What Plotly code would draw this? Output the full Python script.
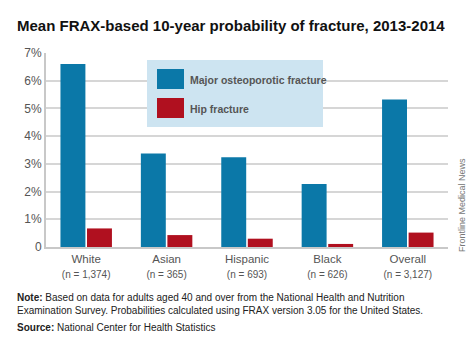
import plotly.graph_objects as go

categories = ["White", "Asian", "Hispanic", "Black", "Overall"]
n_labels = ["(n = 1,374)", "(n = 365)", "(n = 693)", "(n = 626)", "(n = 3,127)"]
major = [6.6, 3.37, 3.24, 2.27, 5.32]
hip = [0.67, 0.43, 0.30, 0.11, 0.52]
yticks = [0, 1, 2, 3, 4, 5, 6, 7]
ytick_text = ["0", "1%", "2%", "3%", "4%", "5%", "6%", "7%"]

BLUE = "#0b78a8"
RED = "#b0101f"
FONT = "Liberation Sans, Arial, sans-serif"

L, R, T, B = 46, 26, 53, 100
PW, PH = 474 - L - R, 347 - T - B


def px(x):
    return (x - L) / PW


def py(y):
    return (347 - B - y) / PH


fig = go.Figure()
fig.add_trace(go.Bar(x=categories, y=major, marker=dict(color=BLUE, line=dict(width=0)),
                     name="Major osteoporotic fracture", showlegend=False))
fig.add_trace(go.Bar(x=categories, y=hip, marker=dict(color=RED, line=dict(width=0)),
                     name="Hip fracture", showlegend=False))

ticktext = [f"{c}<br><span style='font-size:10px'>{n}</span>" for c, n in zip(categories, n_labels)]

fig.update_layout(
    width=474, height=347,
    margin=dict(l=L, r=R, t=T, b=B),
    paper_bgcolor="white", plot_bgcolor="white",
    barmode="group", bargap=0.34, bargroupgap=0.06,
    font=dict(family=FONT, color="#555555", size=12),
    xaxis=dict(tickmode="array", tickvals=categories, ticktext=ticktext, automargin=False,
               showline=True, linecolor="#c8c8c8", linewidth=2, ticks="",
               tickfont=dict(size=11.5, color="#555555"), fixedrange=True),
    yaxis=dict(range=[0, 7], tickvals=yticks, ticktext=ytick_text, automargin=False,
               showgrid=True, gridcolor="#d6d6d6", gridwidth=1.5,
               showline=True, linecolor="#c8c8c8", linewidth=2, ticks="",
               tickfont=dict(size=12, color="#555555"), zeroline=False, fixedrange=True),
    showlegend=False,
)

# Title
fig.add_annotation(text="<b>Mean FRAX-based 10-year probability of fracture, 2013-2014</b>",
                   xref="paper", yref="paper", x=px(15), y=py(25), xanchor="left", yanchor="middle",
                   showarrow=False, font=dict(family=FONT, size=15, color="#111111"))

# Legend box
fig.add_shape(type="rect", xref="paper", yref="paper",
              x0=px(147), x1=px(323), y0=py(127), y1=py(60),
              fillcolor="#cde4f1", line=dict(width=0), layer="above")
fig.add_shape(type="rect", xref="paper", yref="paper",
              x0=px(157), x1=px(184), y0=py(89), y1=py(69),
              fillcolor=BLUE, line=dict(width=0), layer="above")
fig.add_shape(type="rect", xref="paper", yref="paper",
              x0=px(157), x1=px(184), y0=py(118), y1=py(98),
              fillcolor=RED, line=dict(width=0), layer="above")
fig.add_annotation(text="<b>Major osteoporotic fracture</b>", xref="paper", yref="paper",
                   x=px(188), y=py(80), xanchor="left", yanchor="middle",
                   showarrow=False, font=dict(family=FONT, size=10.5, color="#555555"))
fig.add_annotation(text="<b>Hip fracture</b>", xref="paper", yref="paper",
                   x=px(188), y=py(109), xanchor="left", yanchor="middle",
                   showarrow=False, font=dict(family=FONT, size=10.5, color="#555555"))

# Side credit
fig.add_annotation(text="Frontline Medical News", xref="paper", yref="paper",
                   x=px(462), y=py(205), textangle=-90,
                   xanchor="center", yanchor="middle", showarrow=False,
                   font=dict(family=FONT, size=9, color="#777777"))

# Notes
NOTE = dict(family=FONT, size=10, color="#222222")
fig.add_annotation(text="<b>Note:</b> Based on data for adults aged 40 and over from the National Health and Nutrition",
                   xref="paper", yref="paper", x=px(15), y=py(297), xanchor="left", yanchor="middle",
                   align="left", showarrow=False, font=NOTE)
fig.add_annotation(text="Examination Survey. Probabilities calculated using FRAX version 3.05 for the United States.",
                   xref="paper", yref="paper", x=px(15), y=py(310), xanchor="left", yanchor="middle",
                   align="left", showarrow=False, font=NOTE)
fig.add_annotation(text="<b>Source:</b> National Center for Health Statistics",
                   xref="paper", yref="paper", x=px(15), y=py(327), xanchor="left", yanchor="middle",
                   align="left", showarrow=False, font=NOTE)

fig.write_html("out.html")
